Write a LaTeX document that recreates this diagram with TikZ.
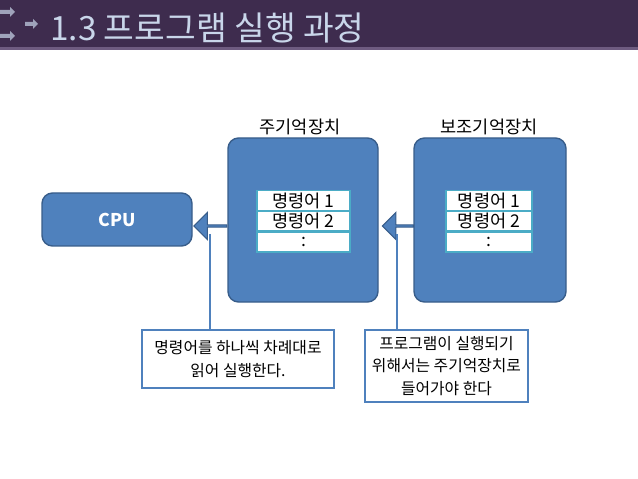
\documentclass[tikz,border=0pt]{standalone}
\usepackage{fontspec}
\setmainfont{Noto Sans CJK KR}
\usetikzlibrary{shapes.arrows}
\definecolor{band}{HTML}{3E2C4E}
\definecolor{bandline}{HTML}{6E5B80}
\definecolor{titlec}{HTML}{C9D6EA}
\definecolor{blk}{HTML}{4F81BD}
\definecolor{blkd}{HTML}{385D8A}
\definecolor{cell}{HTML}{4BACC6}
\tikzset{
  blk/.style={draw=blkd, fill=blk, line width=0.8pt, rounded corners=6pt, inner sep=0pt},
  cell/.style={draw=cell, fill=white, line width=0.8pt, minimum width=93*0.02cm, minimum height=19.5*0.02cm, inner sep=0pt, font=\fontsize{10}{11}\selectfont},
  bar/.style={single arrow, draw=blkd, fill=blk, line width=0.6pt, minimum height=33*0.02cm, minimum width=27*0.02cm, single arrow head extend=0.12cm, shape border rotate=180, inner sep=0pt},
  note/.style={draw=blk, line width=0.6pt, fill=white, align=center, font=\fontsize{9}{13}\selectfont, inner sep=0pt},
  blklabel/.style={font=\fontsize{10}{12}\selectfont},
  lead/.style={draw=blk, line width=0.6pt}
}
\begin{document}
\begin{tikzpicture}[x=0.02cm,y=-0.02cm]
\useasboundingbox (0,0) rectangle (638,479);
% header
\fill[band] (0,0) rectangle (638,47);
\fill[bandline] (0,47) rectangle (638,50);
\fill[titlec!70!band] (0,10) -- (10,10) -- (10,7) -- (15,12) -- (10,17) -- (10,14) -- (0,14) -- cycle;
\fill[titlec!70!band] (0,34) -- (10,34) -- (10,31) -- (15,36) -- (10,41) -- (10,38) -- (0,38) -- cycle;
\fill[titlec!70!band] (25,22) -- (33,22) -- (33,19) -- (38,24) -- (33,29) -- (33,26) -- (25,26) -- cycle;
\node[anchor=west, text=titlec, font=\fontsize{19}{22}\selectfont] (title) at (44,28) {1.3 프로그램 실행 과정};
% blocks
\node[blk, minimum width=150*0.02cm, minimum height=53*0.02cm, text=white, font=\bfseries\fontsize{10}{12}\selectfont] (cpu) at (117,219.5) {CPU};
\node[blk, minimum width=150*0.02cm, minimum height=164*0.02cm] (main) at (303,220) {};
\node[blk, minimum width=152*0.02cm, minimum height=164*0.02cm] (aux) at (490,220) {};
\node[blklabel] (lmain) at (300,127) {주기억장치};
\node[blklabel] (laux) at (489,127) {보조기억장치};
% tables
\node[cell] (m1) at (303.5,200.5) {명령어 1};
\node[cell, anchor=north] (m2) at (m1.south) {명령어 2};
\node[cell, anchor=north] (m3) at (m2.south) {:};
\node[cell, minimum width=86*0.02cm] (a1) at (489,200.5) {명령어 1};
\node[cell, minimum width=86*0.02cm, anchor=north] (a2) at (a1.south) {명령어 2};
\node[cell, minimum width=86*0.02cm, anchor=north] (a3) at (a2.south) {:};
% arrows
\node[bar] (ar1) at (211,226) {};
\node[bar, minimum height=31*0.02cm] (ar2) at (398.5,226) {};
% notes
\node[note, minimum width=192*0.02cm, minimum height=58*0.02cm] (n1) at (238,359) {명령어를 하나씩 차례대로\\읽어 실행한다.};
\node[note, minimum width=163*0.02cm, minimum height=72*0.02cm] (n2) at (446.5,366) {프로그램이 실행되기\\위해서는 주기억장치로\\들어가야 한다};
\coordinate (c1) at (210,234);
\coordinate (c2) at (397,234);
\draw[lead] (c1) -- (c1 |- n1.north);
\draw[lead] (c2) -- (c2 |- n2.north);
\end{tikzpicture}
\end{document}
